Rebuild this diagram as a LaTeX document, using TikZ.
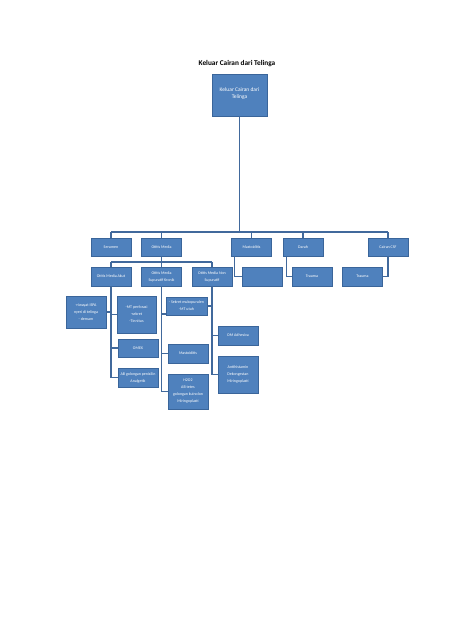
\documentclass[tikz,border=0pt]{standalone}
\usepackage{fontspec}
\setmainfont{Carlito}
\definecolor{boxfill}{HTML}{4F81BD}
\definecolor{boxline}{HTML}{3A659A}
\definecolor{connline}{HTML}{41699C}
\begin{document}
\begin{tikzpicture}[x=1pt,y=-1pt,
  box/.style={draw=boxline,line width=0.4pt,fill=boxfill,text=white,inner sep=0.5pt,
    align=center,font=\fontsize{4}{7}\selectfont},
  conn/.style={draw=connline,line width=1.3pt}]
\useasboundingbox[fill=white] (0,0) rectangle (474,632);
% title
\node[font=\fontsize{7.3}{9}\selectfont\bfseries] (title) at (237,64) {Keluar Cairan dari Telinga};
% root
\node[box,minimum width=55pt,minimum height=42pt,font=\fontsize{5.5}{7.6}\selectfont,text depth=4pt] (root) at (239.5,95) {Keluar Cairan dari\\Telinga};
% level 1
\begin{scope}[every node/.append style={box,minimum width=40pt,minimum height=18pt}]
\node (serumen) at (111,247) {Serumen};
\node (om) at (161.5,247) {Otitis Media};
\node (mast) at (251.5,247) {Mastoiditis};
\node (darah) at (303,247) {Darah};
\node (csf) at (388,247) {Cairan CSF};
% level 2
\node[minimum height=19pt] (oma) at (111,276.5) {Otitis Media Akut};
\node[minimum height=19pt] (omsk) at (161.5,276.5) {Otitis Media\\Supuratif Kronik};
\node[minimum height=19pt] (omnon) at (212,276.5) {Otitis Media Non\\Supuratif};
\node[minimum height=19pt] (empty) at (262,276.5) {};
\node[minimum height=19pt] (trauma1) at (312,276.5) {Trauma};
\node[minimum height=19pt] (trauma2) at (362.5,276.5) {Trauma};
% level 3, column 1
\node[minimum height=32pt] (riwayat) at (86,312) {-riwayat ISPA\\nyeri di telinga\\- demam};
\node[minimum width=39pt,minimum height=37pt] (mt) at (136.5,314.5) {-MT perforasi\\-sekret\\-Tinnitus};
\node (omex) at (138,348) {OMEX};
\node[minimum height=19pt] (ab) at (138,377.5) {AB golongan penisilin\\Analgetik};
% column 2
\node[minimum width=41pt] (sekret) at (186.5,306) {- Sekret mukopurulen\\-MT utuh};
\node[minimum height=19pt] (mast2) at (188,353.5) {Mastoiditis};
\node[minimum height=35pt] (h2o2) at (188,391.5) {H2O2\\AB tetes\\golongan kuinolon\\Miringoplasti};
% column 3
\node[minimum height=19pt] (adh) at (238,335.5) {OM Adhesiva};
\node[minimum height=37pt] (anti) at (238,374.5) {Antihistamin\\Dekongestan\\Miringoplasti};
\end{scope}
% bus level 1
\coordinate (busy) at (0,232);
\draw[conn] (root.south) -- (root.south |- busy);
\draw[conn] (serumen.north |- busy) -- (csf.north |- busy);
\foreach \n in {serumen,om,mast,darah,csf}
  \draw[conn] (\n.north) -- (\n.north |- busy);
% side connectors
\draw[conn] ([xshift=3pt]mast.south west) |- (empty.west);
\draw[conn] ([xshift=4pt]darah.south west) |- (trauma1.west);
\draw[conn] (csf.south) |- (trauma2.east);
% otitis media sub bus
\coordinate (suby) at (0,262);
\draw[conn] (om.south) -- (om.south |- suby);
\draw[conn] (oma.north |- suby) -- (omnon.north |- suby);
\foreach \n in {oma,omsk,omnon}
  \draw[conn] (\n.north) -- (\n.north |- suby);
% column 1
\draw[conn] (oma.south) -- (oma.south |- ab.west) -- (ab.west);
\draw[conn] (oma.south |- riwayat.east) -- (riwayat.east);
\draw[conn] (oma.south |- mt.west) -- (mt.west);
\draw[conn] (oma.south |- omex.west) -- (omex.west);
% column 2
\coordinate (c2tick) at (0,314);
\draw[conn] (omsk.south) -- (omsk.south |- h2o2.west) -- (h2o2.west);
\draw[conn] (omsk.south |- c2tick) -- (sekret.west |- c2tick);
\draw[conn] (omsk.south |- mast2.west) -- (mast2.west);
% column 3
\draw[conn] (omnon.south) -- (omnon.south |- anti.west) -- (anti.west);
\draw[conn] (omnon.south |- sekret.east) -- (sekret.east);
\draw[conn] (omnon.south |- adh.west) -- (adh.west);
\end{tikzpicture}
\end{document}
